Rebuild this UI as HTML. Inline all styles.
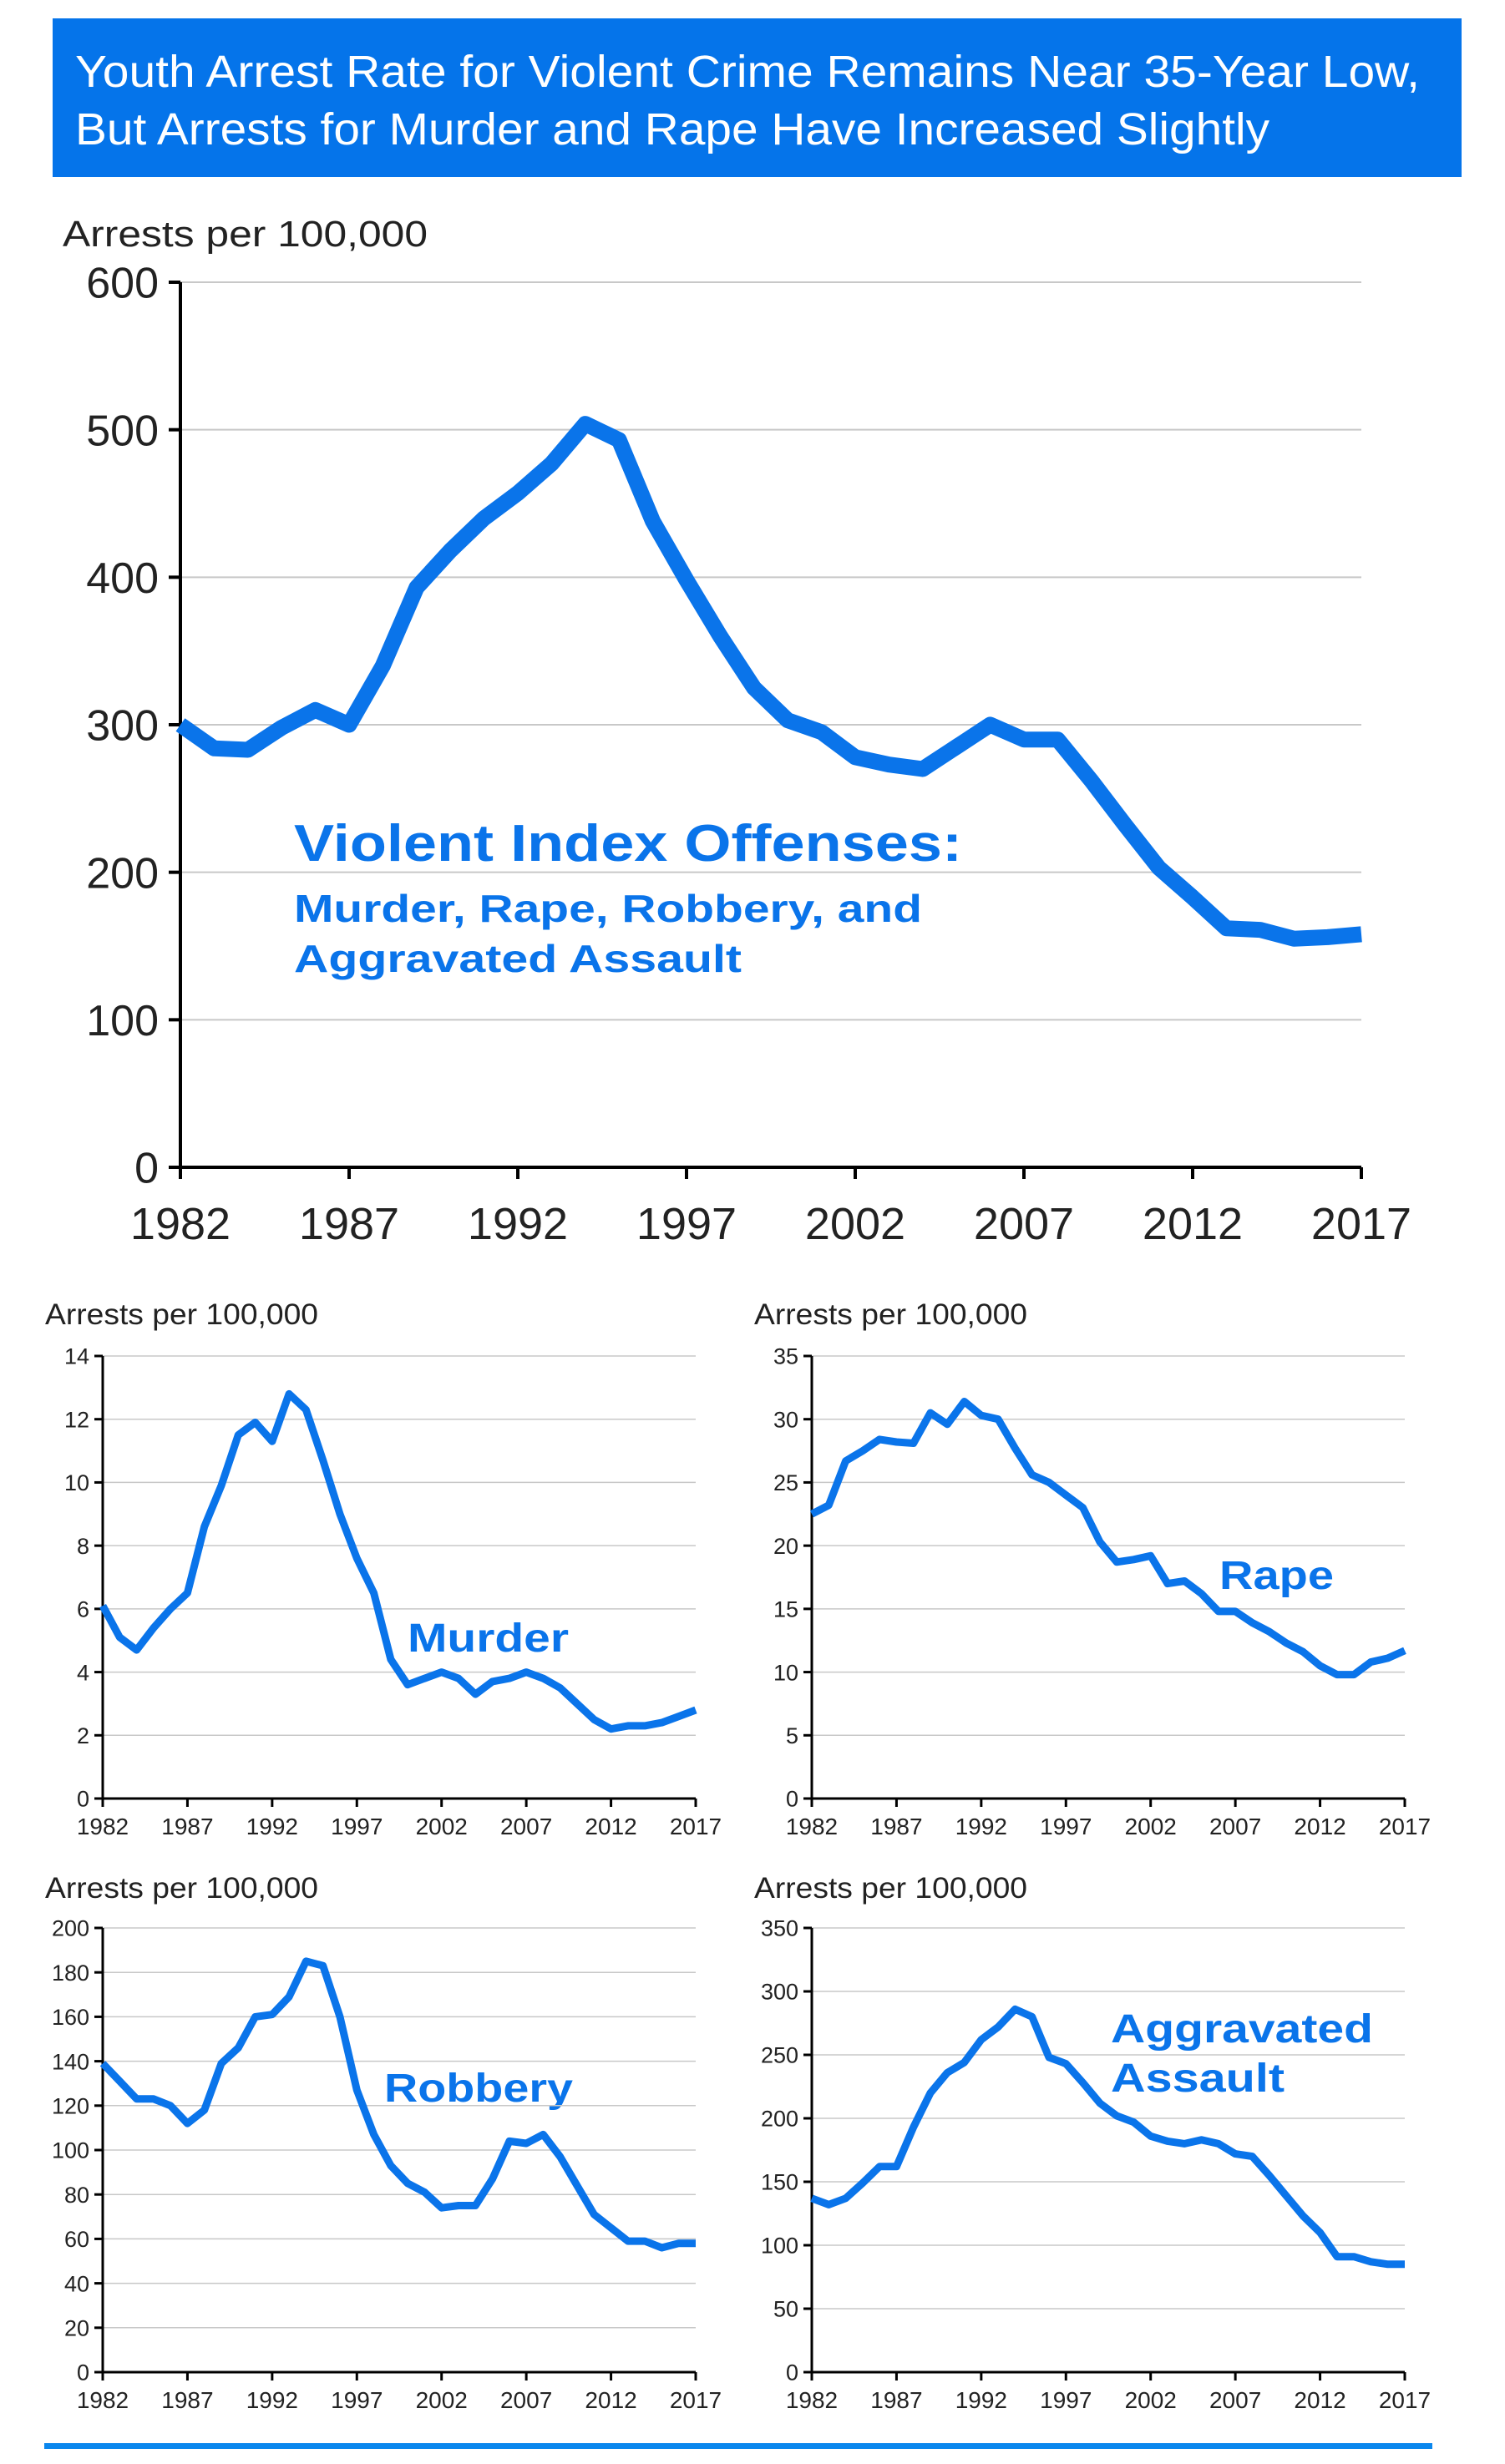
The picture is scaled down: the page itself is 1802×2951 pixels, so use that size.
<!DOCTYPE html>
<html><head><meta charset="utf-8"><style>
html,body{margin:0;padding:0;background:#fff}
svg{display:block}
text{font-family:"Liberation Sans",Arial,sans-serif;fill:#222}
.b{font-weight:bold;fill:#0a74ea}
</style></head><body>
<svg id="s" width="1802" height="2951" viewBox="0 0 1802 2951" xmlns="http://www.w3.org/2000/svg">
<rect x="63" y="22" width="1687" height="190" fill="#0574ea"/>
<text x="90" y="104" font-size="54" style="fill:#fff" textLength="1610" lengthAdjust="spacingAndGlyphs">Youth Arrest Rate for Violent Crime Remains Near 35-Year Low,</text>
<text x="90" y="173" font-size="54" style="fill:#fff" textLength="1430" lengthAdjust="spacingAndGlyphs">But Arrests for Murder and Rape Have Increased Slightly</text>
<text x="75" y="295" font-size="44" textLength="437" lengthAdjust="spacingAndGlyphs">Arrests per 100,000</text>
<text class="b" x="352" y="1031" font-size="62" textLength="800" lengthAdjust="spacingAndGlyphs">Violent Index Offenses:</text>
<text class="b" x="352" y="1104" font-size="46" textLength="752" lengthAdjust="spacingAndGlyphs">Murder, Rape, Robbery, and</text>
<text class="b" x="352" y="1164" font-size="46" textLength="536" lengthAdjust="spacingAndGlyphs">Aggravated Assault</text>

<text x="54" y="1586" font-size="35" textLength="327" lengthAdjust="spacingAndGlyphs">Arrests per 100,000</text>
<text x="903" y="1586" font-size="35" textLength="327" lengthAdjust="spacingAndGlyphs">Arrests per 100,000</text>
<text x="54" y="2273" font-size="35" textLength="327" lengthAdjust="spacingAndGlyphs">Arrests per 100,000</text>
<text x="903" y="2273" font-size="35" textLength="327" lengthAdjust="spacingAndGlyphs">Arrests per 100,000</text>
<text class="b" x="488" y="1978" font-size="48" textLength="193" lengthAdjust="spacingAndGlyphs">Murder</text>
<text class="b" x="1460" y="1903" font-size="48" textLength="137" lengthAdjust="spacingAndGlyphs">Rape</text>
<text class="b" x="460" y="2517" font-size="48" textLength="226" lengthAdjust="spacingAndGlyphs">Robbery</text>
<text class="b" x="1330" y="2446" font-size="48" textLength="314" lengthAdjust="spacingAndGlyphs">Aggravated</text>
<text class="b" x="1330" y="2505" font-size="48" textLength="208" lengthAdjust="spacingAndGlyphs">Assault</text>
<rect x="53" y="2926" width="1662" height="7" fill="#0a87ee"/>
</svg>
<script>
var NS="http://www.w3.org/2000/svg",S=document.getElementById('s');
function el(n,a,t){var e=document.createElementNS(NS,n);for(var k in a)e.setAttribute(k,a[k]);if(t!=null)e.textContent=t;S.appendChild(e);return e;}
function chart(o){
 var x0=o.x0,x1=o.x1,y0=o.y0,y1=o.y1;
 for(var i=0;i<=o.n;i++){var v=o.max*i/o.n,y=y0-(y0-y1)*i/o.n;
  if(i>0)el('line',{x1:x0,x2:x1,y1:y,y2:y,stroke:'#c8c8c8','stroke-width':o.gw});
  el('line',{x1:x0,x2:x0+o.tk,y1:y,y2:y,stroke:'#000','stroke-width':o.aw});
  el('text',{x:x0-o.lg,y:y+o.fs*0.36,'font-size':o.fs,'text-anchor':'end'},String(v));}
 for(var yr=1982;yr<=2017;yr+=5){var x=x0+(x1-x0)*(yr-1982)/35;
  el('line',{x1:x,x2:x,y1:y0,y2:y0-o.tk,stroke:'#000','stroke-width':o.aw});
  el('text',{x:x,y:o.yb,'font-size':o.xfs,'text-anchor':'middle'},String(yr));}
 el('line',{x1:x0,x2:x0,y1:y1,y2:y0,stroke:'#000','stroke-width':o.aw});
 el('line',{x1:x0,x2:x1,y1:y0,y2:y0,stroke:'#000','stroke-width':o.aw});
 var p=o.d.map(function(v,i){return (x0+(x1-x0)*i/35).toFixed(1)+','+(y0-(y0-y1)*v/o.max).toFixed(1)}).join(' ');
 el('polyline',{points:p,fill:'none',stroke:'#0a74ea','stroke-width':o.sw,'stroke-linejoin':'round'});
}
chart({x0:216,x1:1630,y0:1398,y1:338,max:600,n:6,fs:52,xfs:54,yb:1484,lg:26,tk:-14,aw:4,gw:2,sw:19,
 d:[300,284,283,298,310,300,340,393,418,440,457,477,504,493,438,398,360,325,303,295,278,273,270,285,300,290,290,262,232,203,183,162,161,155,156,158]});
var sm={fs:27,xfs:28,lg:16,tk:-10,aw:3,gw:1.5,sw:9};
function C(a){for(var k in sm)if(!(k in a))a[k]=sm[k];chart(a);}
C({x0:123,x1:833,y0:2154,y1:1624,max:14,n:7,yb:2197,
 d:[6.1,5.1,4.7,5.4,6.0,6.5,8.6,9.9,11.5,11.9,11.3,12.8,12.3,10.7,9.0,7.6,6.5,4.4,3.6,3.8,4.0,3.8,3.3,3.7,3.8,4.0,3.8,3.5,3.0,2.5,2.2,2.3,2.3,2.4,2.6,2.8]});
C({x0:972,x1:1682,y0:2154,y1:1624,max:35,n:7,yb:2197,
 d:[22.5,23.2,26.7,27.5,28.4,28.2,28.1,30.5,29.6,31.4,30.3,30.0,27.7,25.6,25.0,24.0,23.0,20.3,18.7,18.9,19.2,17.0,17.2,16.2,14.8,14.8,13.9,13.2,12.3,11.6,10.5,9.8,9.8,10.8,11.1,11.7]});
C({x0:123,x1:833,y0:2841,y1:2309,max:200,n:10,yb:2884,
 d:[139,131,123,123,120,112,118,139,146,160,161,169,185,183,160,127,107,93,85,81,74,75,75,87,104,103,107,97,84,71,65,59,59,56,58,58]});
C({x0:972,x1:1682,y0:2841,y1:2309,max:350,n:7,yb:2884,
 d:[137,132,137,149,162,162,193,220,236,244,262,272,286,280,248,243,228,212,202,197,186,182,180,183,180,172,170,155,139,123,110,91,91,87,85,85]});
</script>
</body></html>
